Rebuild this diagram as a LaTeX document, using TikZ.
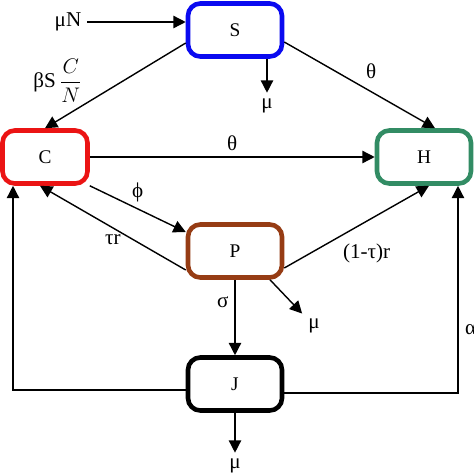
\documentclass[tikz,border=0pt]{standalone}
\usepackage{amsmath}
\usepackage{fontspec}
\setmainfont{Liberation Serif}
\usetikzlibrary{arrows.meta}
\definecolor{sblue}{RGB}{10,10,240}
\definecolor{cred}{RGB}{235,20,20}
\definecolor{hgreen}{RGB}{50,140,100}
\definecolor{pbrown}{RGB}{150,60,20}

\begin{document}
\begin{tikzpicture}[x=0.02cm, y=-0.02cm,
every node/.style={font=\fontsize{12}{14}\selectfont},
box/.style={
    rectangle,
    draw,
    line width=2.6pt,
    rounded corners=7pt,
    fill=white,
    minimum width=1.88cm,
    minimum height=1.06cm,
    font=\fontsize{11}{13}\selectfont
},
flow/.style={->, line width=0.8pt},
>={Triangle[length=7pt, width=7pt]}]

  \useasboundingbox (0,0) rectangle (474,474);

  \node[box, draw=sblue] (S) at (235,30) {S};
  \node[box, draw=cred, minimum width=1.7cm] (C) at (45,157) {C};
  \node[box, draw=hgreen] (H) at (424,157) {H};
  \node[box, draw=pbrown] (P) at (235,251) {P};
  \node[box, draw=black] (J) at (235,384) {J};

  \node (muN) at (68,22) {μN};
  \node (mu1) at (267,106) {μ};
  \node (mu2) at (314,326) {μ};
  \node (mu3) at (235,466) {μ};
  \node (alpha) [anchor=west] at (459,330) {α};

  \draw[flow] (muN) -- (muN -| S.west);
  \draw[flow] ([yshift=-0.26cm]S.west) -- (C.north)
    node[pos=0.44, left=0.7cm] {βS\,$\dfrac{C}{N}$};
  \draw[flow] (S.south -| mu1) -- (mu1);
  \draw[flow] ([yshift=-0.24cm]S.east) -- ([xshift=0.22cm]H.north)
    node[midway, above right] {θ};
  \draw[flow] (C) -- (H) node[midway, above] {θ};
  \draw[flow] (C.south east) -- ([yshift=0.38cm]P.west)
    node[midway, above] {ϕ};
  \draw[flow] ([yshift=-0.38cm]P.west) -- ([xshift=-0.1cm]C.south)
    node[midway, below] {τr};
  \draw[flow] ([yshift=-0.34cm]P.east) -- ([xshift=0.1cm]H.south)
    node[midway, below=6pt, xshift=0.2cm] {(1-τ)r};
  \draw[flow] (P) -- (J) node[pos=0.3, left] {σ};
  \draw[flow] ([xshift=0.7cm]P.south) -- (mu2);
  \draw[flow] (J) -- (mu3);
  \draw[flow] ([yshift=-0.12cm]J.west) -| ([xshift=-0.64cm]C.south);
  \draw[flow] ([yshift=-0.18cm]J.east) -| ([xshift=0.68cm]H.south);

\end{tikzpicture}
\end{document}
